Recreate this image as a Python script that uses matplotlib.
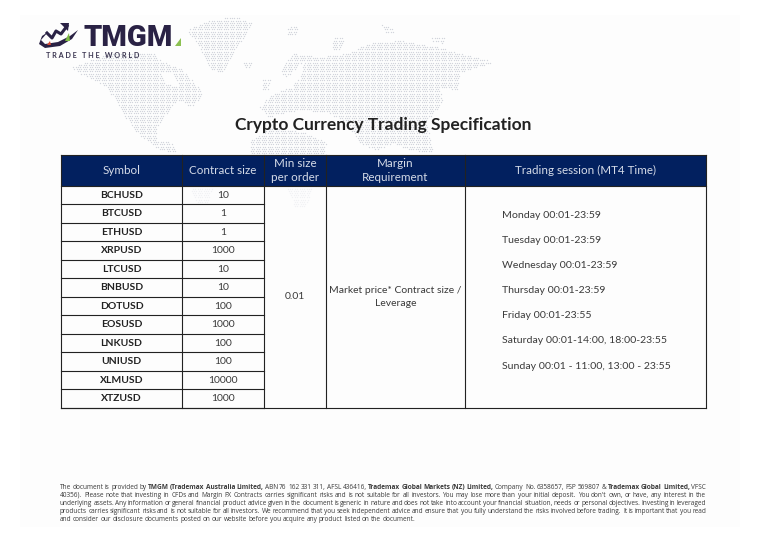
import numpy as np
import matplotlib
matplotlib.use('Agg')
import matplotlib.pyplot as plt
from matplotlib.patches import Rectangle, Polygon
from matplotlib.path import Path

plt.rcParams['font.family'] = ['Lato', 'DejaVu Sans']

TITLE = 'Crypto Currency Trading Specification'
headers = ['Symbol', 'Contract size', 'Min size\nper order', 'Margin\nRequirement', 'Trading session (MT4 Time)']
symbols = ['BCHUSD', 'BTCUSD', 'ETHUSD', 'XRPUSD', 'LTCUSD', 'BNBUSD', 'DOTUSD', 'EOSUSD', 'LNKUSD', 'UNIUSD', 'XLMUSD', 'XTZUSD']
contract_sizes = ['10', '1', '1', '1000', '10', '10', '100', '1000', '100', '100', '10000', '1000']
min_size = '0.01'
margin = 'Market price* Contract size /\nLeverage'
sessions = ['Monday 00:01-23:59', 'Tuesday 00:01-23:59', 'Wednesday 00:01-23:59', 'Thursday 00:01-23:59',
            'Friday 00:01-23:55', 'Saturday 00:01-14:00, 18:00-23:55', 'Sunday 00:01 - 11:00, 13:00 - 23:55']
session_y = [215.6, 240.6, 265.6, 290.6, 315.6, 340.6, 366.6]
col_x = [61, 182, 264, 326, 465, 706]
top, head_bot, bot = 155, 186, 407.5
NAVY = '#02205f'
TXT = '#3a3a3a'

fig = plt.figure(figsize=(7.68, 5.44), dpi=100, facecolor='white')
ax = fig.add_axes([0, 0, 1, 1])
ax.set_xlim(0, 768); ax.set_ylim(544, 0); ax.axis('off')

ax.add_patch(Rectangle((20, 15), 720, 512, fc='#fdfdfd', ec='none', zorder=0))

# dotted world map (decorative)
lands = [
    [(70,68),(110,53),(153,53),(160,60),(183,70),(203,93),(193,107),(177,100),(157,127),(157,140),(173,143),(177,153),(160,150),(137,133),(123,113),(107,87)],
    [(187,30),(210,20),(237,17),(253,23),(240,43),(223,73),(210,70),(200,47)],
    [(280,70),(293,53),(320,57),(347,53),(370,43),(400,40),(437,47),(493,62),(460,73),(457,90),(440,87),(443,103),(427,120),(433,153),(410,150),(393,143),(377,150),(360,143),(343,120),(327,113),(300,110),(267,117),(260,107),(273,93),(293,87)],
    [(250,140),(273,127),(307,133),(327,143),(323,157),(250,157)],
    [(243,62),(252,62),(250,68),(244,67)],
    [(286,28),(298,26),(296,36),(288,36)],
    [(333,38),(345,37),(340,50),(332,50)],
    [(380,24),(392,28),(396,34),(386,32)],
    [(432,38),(445,38),(442,43),(434,42)],
    [(262,80),(270,80),(268,90),(262,90)],
]
holes = [
    [(160,73),(173,73),(180,87),(167,83)],
    [(283,82),(296,68),(304,60),(300,78),(290,86)],
]
faint = [
    [(190,187),(213,187),(208,203),(197,203)],
    [(287,187),(313,187),(305,208),(295,208)],
]
gx, gy = np.meshgrid(np.arange(40, 500, 2.37), np.arange(14, 215, 2.21))
gx = gx + (np.arange(gx.shape[0])[:, None] % 2) * 1.18
pts = np.c_[gx.ravel(), gy.ravel()]
inside = np.zeros(len(pts), bool)
for l in lands:
    inside |= Path(l).contains_points(pts)
for h in holes:
    inside &= ~Path(h).contains_points(pts)
ax.scatter(pts[inside, 0], pts[inside, 1], s=0.9, c='#d2d4dc', linewidths=0, zorder=1)
soft = np.zeros(len(pts), bool)
for l in faint:
    soft |= Path(l).contains_points(pts)
ax.scatter(pts[soft, 0], pts[soft, 1], s=0.9, c='#f1f2f4', linewidths=0, zorder=1)

# logo
DARK = '#2a2245'
ax.add_patch(Polygon([(39,44),(45,48),(60,46),(72,39),(78,30),(70,36),(58,42),(45,44),(41,40),(48,32),(42,36)], fc=DARK, ec='none', zorder=3))
ax.plot([47, 52, 56, 61, 67], [33, 38, 31, 34, 26], color=DARK, lw=2.2, zorder=3)
ax.add_patch(Polygon([(60, 23), (69, 23), (68, 31)], fc=DARK, ec='none', zorder=3))
ax.add_patch(Polygon([(47, 45), (50, 41), (51, 45)], fc='#d8472f', ec='none', zorder=3))
ax.add_patch(Polygon([(65, 41), (69, 33), (70, 41)], fc='#7dbb42', ec='none', zorder=3))
ax.add_patch(Polygon([(175, 46), (181, 38), (181, 46)], fc='#8cc152', ec='none', zorder=3))
ax.text(83, 37.5, 'TMGM', fontsize=21, fontweight='black', family='Roboto', color=DARK, va='center', ha='left', zorder=3)
ax.text(46.5, 56, 'T R A D E   T H E   W O R L D', fontsize=5.2, fontweight='bold', color='#3a3550', va='center', ha='left', zorder=3)

ax.text(383.5, 124.6, TITLE, fontsize=12.5, fontweight='bold', color='#222222', ha='center', va='center', zorder=3)

# table
ax.add_patch(Rectangle((col_x[0], top), col_x[-1]-col_x[0], head_bot-top, fc=NAVY, ec='none', zorder=2))
for i, h in enumerate(headers):
    ax.text((col_x[i]+col_x[i+1])/2, (top+head_bot)/2, h, color='#d5dbe8', fontsize=8.4, ha='center', va='center',
            linespacing=1.32, zorder=4)
row_h = (bot-head_bot)/len(symbols)
for i, (s, c) in enumerate(zip(symbols, contract_sizes)):
    y = head_bot + (i+0.5)*row_h + 0.2
    ax.text((col_x[0]+col_x[1])/2, y, s, fontsize=7.5, fontweight='bold', color='#222222', ha='center', va='center', zorder=4)
    ax.text((col_x[1]+col_x[2])/2, y, c, fontsize=7.5, color=TXT, ha='center', va='center', zorder=4)
    yy = head_bot + (i+1)*row_h
    ax.plot([col_x[0], col_x[2]], [yy, yy], color='#222222', lw=0.8, zorder=3)
for yy in (top, head_bot, bot):
    ax.plot([col_x[0], col_x[-1]], [yy, yy], color='#222222', lw=0.8, zorder=3)
for x in col_x:
    ax.plot([x, x], [top, bot], color='#222222', lw=0.8, zorder=3)

ymid = (head_bot+bot)/2
ax.text((col_x[2]+col_x[3])/2, ymid, min_size, fontsize=7.5, color=TXT, ha='center', va='center', zorder=4)
ax.text((col_x[3]+col_x[4])/2, ymid, margin, fontsize=7.5, color=TXT, ha='center', va='center', linespacing=1.6, zorder=4)
for s, y in zip(sessions, session_y):
    ax.text(502, y, s, fontsize=7.55, color=TXT, ha='left', va='center', zorder=4)

# footer: justified word by word, on a shared baseline
foot = [
 [('The document is provided by', 0), ('TMGM (Trademax Australia Limited,', 1), ('ABN 76 162 331 311, AFSL 436416,', 0), ('Trademax Global Markets (NZ) Limited,', 1), ('Company No. 6358657, FSP 569807 &', 0), ('Trademax Global Limited,', 1), ('VFSC', 0)],
 [("40356). Please note that investing in CFDs and Margin FX Contracts carries significant risks and is not suitable for all investors. You may lose more than your initial deposit. You don't own, or have, any interest in the", 0)],
 [('underlying assets. Any information or general financial product advice given in the document is generic in nature and does not take into account your financial situation, needs or personal objectives. Investing in leveraged', 0)],
 [('products carries significant risks and is not suitable for all investors. We recommend that you seek independent advice and ensure that you fully understand the risks involved before trading. It is important that you read', 0)],
 [('and consider our disclosure documents posted on our website before you acquire any product listed on the document.', 0)],
]
foot_y = [489, 497, 505, 513, 520.7]
FS = 4.7
FX0, FX1 = 60, 706
r = fig.canvas.get_renderer()
for n, (line, y) in enumerate(zip(foot, foot_y)):
    words = [(w, b) for t, b in line for w in t.split(' ')]
    arts = [ax.text(0, y, w, fontsize=FS, fontweight='bold' if b else 'normal', family='Open Sans',
                    color='#3a3a3a', ha='left', va='baseline', zorder=4) for w, b in words]
    widths = [a.get_window_extent(r).width for a in arts]
    gap = (FX1-FX0-sum(widths))/(len(arts)-1) if n < 4 else 1.45
    x = FX0
    for a, w in zip(arts, widths):
        a.set_x(x)
        x += w + gap

fig.savefig('out.png', dpi=100)
